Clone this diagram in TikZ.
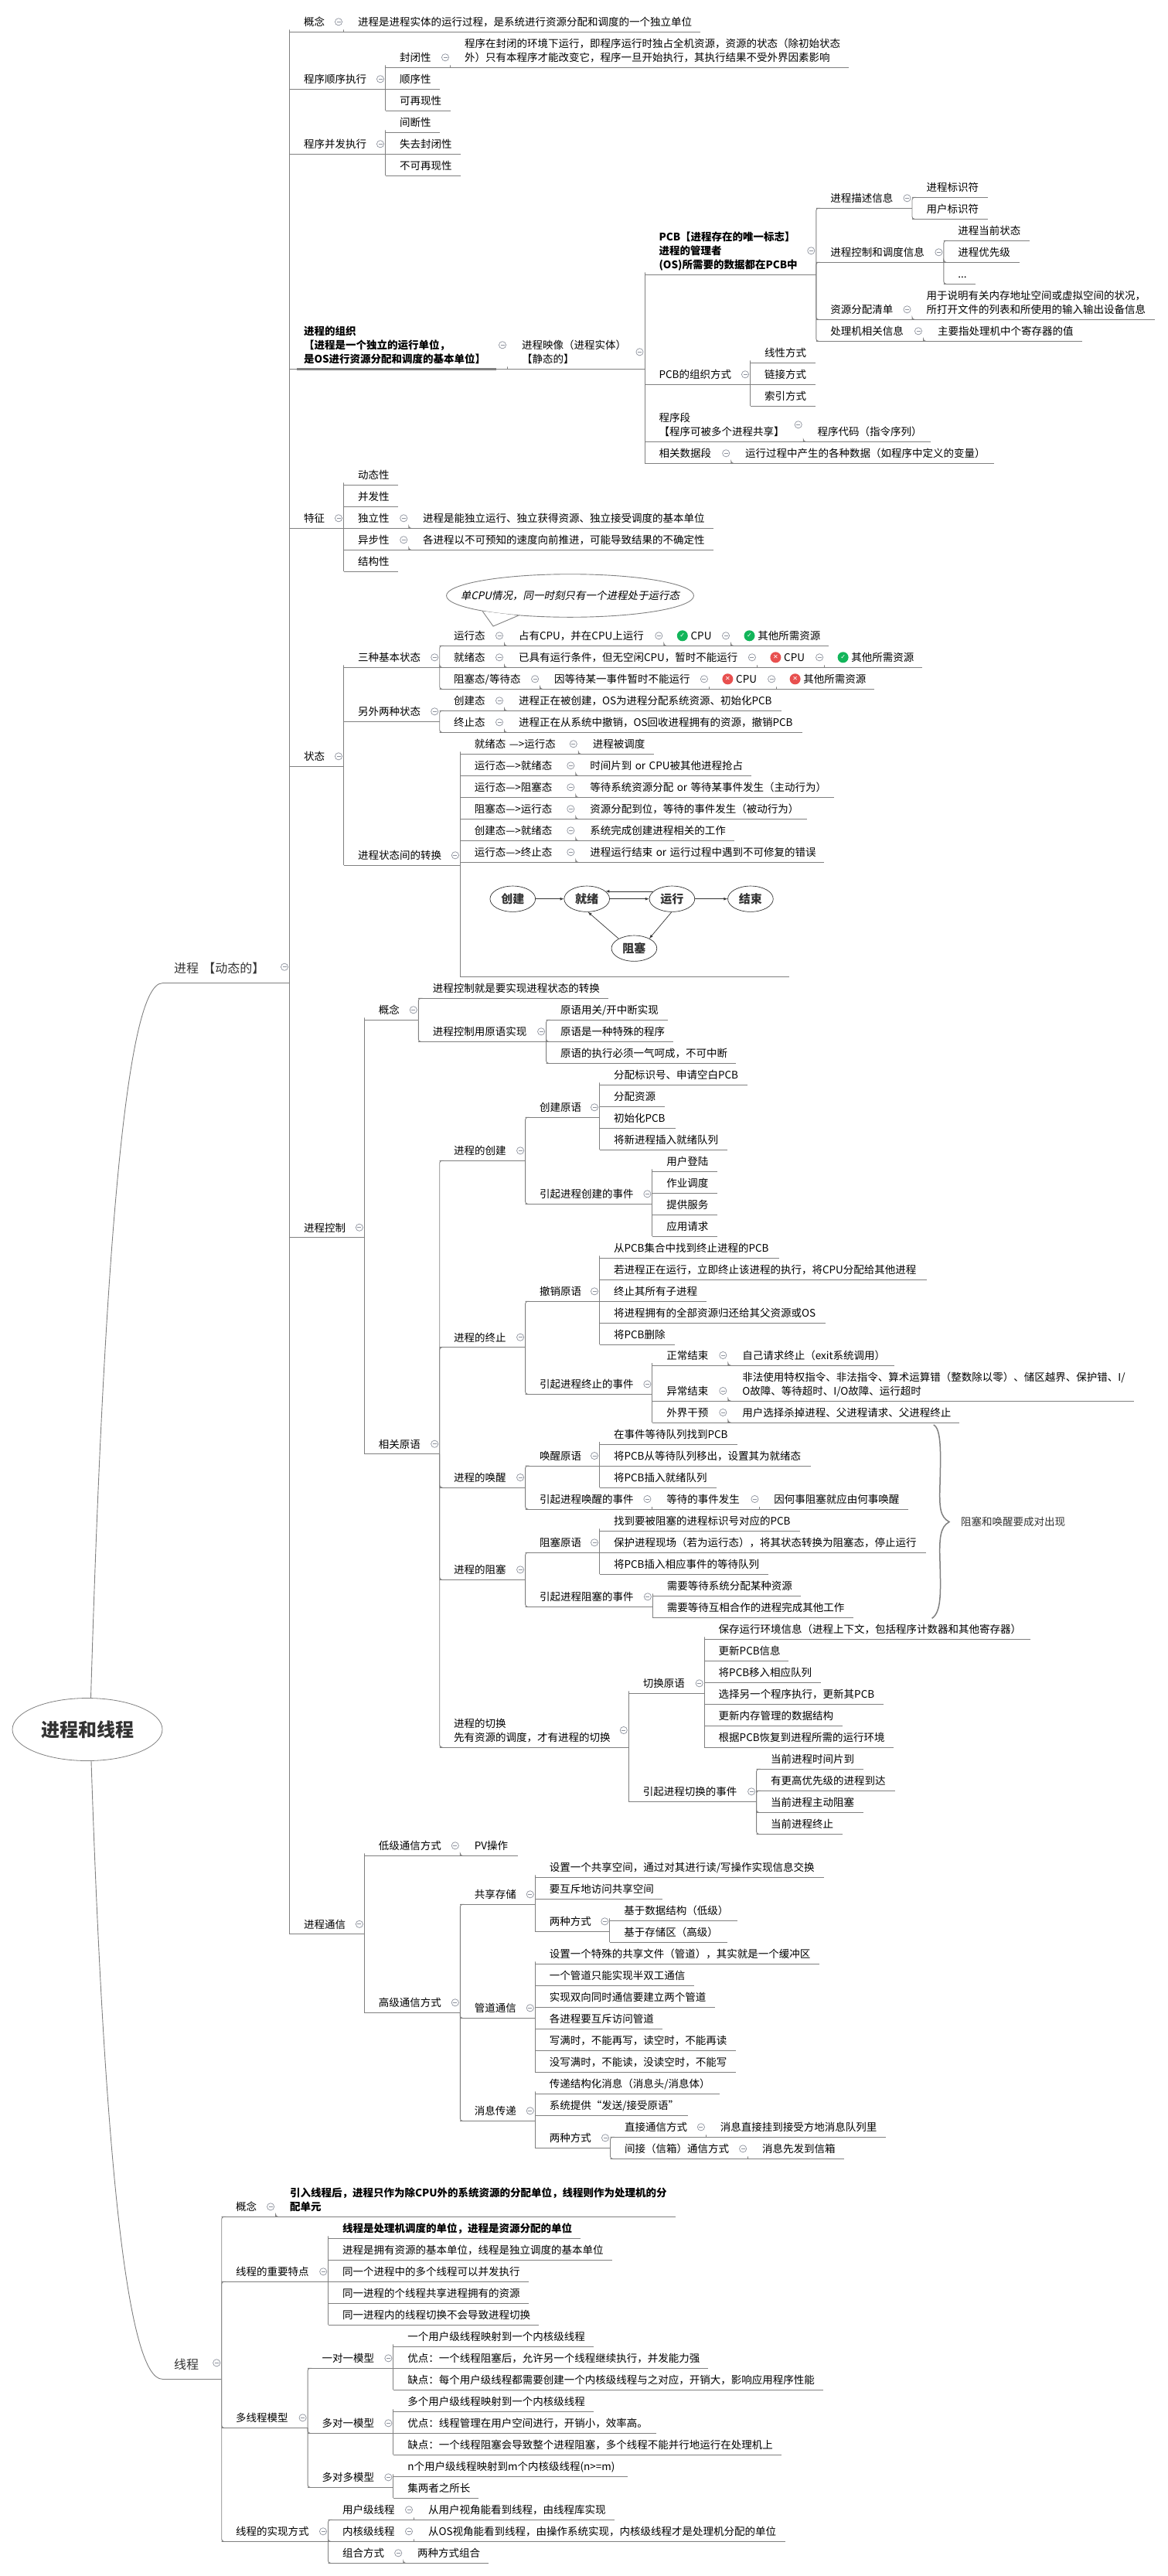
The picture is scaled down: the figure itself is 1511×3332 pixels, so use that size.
\documentclass[tikz,border=0pt]{standalone}
\usepackage{fontspec}
\setmainfont{Noto Sans CJK SC}
\newfontfamily\slantfont[FakeSlant=0.2]{Noto Sans CJK SC}
\newfontfamily\markfont{DejaVu Sans}
\usepackage{tikz}
\usetikzlibrary{shapes,shapes.geometric}
\definecolor{linegray}{HTML}{808080}
\definecolor{inkgray}{HTML}{333333}
\definecolor{btngray}{HTML}{8C919C}
\definecolor{okgreen}{HTML}{12B55A}
\definecolor{nored}{HTML}{E8504F}
\tikzset{
  branch/.style={draw=linegray,line width=0.9pt},
  topic/.style={anchor=south west,inner xsep=0pt,inner ysep=0pt,outer sep=0pt,align=left,text=black,
    font=\fontsize{13.5}{18}\selectfont,execute at begin node={\leftskip=18.5pt\rule{0pt}{18.5pt}},
    execute at end node={\rule[-7.5pt]{0pt}{7.5pt}}},
  mainbranch/.style={topic,text=inkgray,font=\fontsize{16}{20}\selectfont,
    execute at begin node={\leftskip=15pt\rule{0pt}{29pt}},execute at end node={\rule[-13pt]{0pt}{13pt}}},
  collapse/.style={circle,draw=btngray,fill=white,line width=0.7pt,minimum size=9.2pt,inner sep=0pt,outer sep=0pt,text=btngray},
  okdot/.style={circle,fill=okgreen,text=white,minimum size=14pt,inner sep=0pt,font=\markfont\fontsize{8}{8}\selectfont\bfseries},
  nodot/.style={okdot,fill=nored},
  statenode/.style={ellipse,draw=inkgray,line width=0.7pt,minimum width=58.7pt,minimum height=33.3pt,inner sep=0pt,
    text=inkgray,font=\fontsize{15}{15}\selectfont\bfseries},
  rootnode/.style={ellipse,draw=linegray,line width=0.8pt,minimum width=194pt,minimum height=81pt,inner sep=0pt,
    text=inkgray,font=\fontsize{24}{24}\selectfont\bfseries},
  bubble/.style={ellipse,draw=linegray,line width=0.9pt,minimum width=320pt,minimum height=55.6pt,inner xsep=-35pt,inner ysep=0pt,
    font=\slantfont\fontsize{13.5}{18}\selectfont},
}
\begin{document}
\begin{tikzpicture}[x=1pt,y=-1pt]
\useasboundingbox (0,0) rectangle (1511,3332);

\node[rootnode] (root) at (113,2237) {进程和线程};
\node[mainbranch,text width=164.5pt] (proc) at (210,1271.7) {进程 【动态的】};
\node[mainbranch,text width=76.7pt] (thread) at (210,3077.3) {线程};
\draw[branch] (proc.south west) -- (proc.south east);
\draw[branch] (thread.south west) -- (thread.south east);
\draw[branch] ([xshift=4.5pt]root.north) .. controls (135,1600) and (165,1271.7) .. (proc.south west);
\draw[branch] ([xshift=5pt]root.south) .. controls (135,2793) and (165,3077.3) .. (thread.south west);
\node[collapse] (proc-btn) at ([xshift=-6.5pt]proc.east) {\rule{5pt}{0.7pt}};
\node[collapse] (thread-btn) at ([xshift=-6.5pt]thread.east) {\rule{5pt}{0.7pt}};

\foreach \nd/\up/\xl/\yline/\xr/\flag/\txt in {
  concept/proc/374.5/41.3/444.5/1/概念,
  conceptdef/concept/444.5/41.3/906/0/进程是进程实体的运行过程，是系统进行资源分配和调度的一个独立单位,
  seqrun/proc/374.5/115.3/498.5/1/程序顺序执行,
  closed/seqrun/498.5/87.3/582.5/1/封闭性,
  closeddef/closed/582.5/87.3/1098/0/{程序在封闭的环境下运行，即程序运行时独占全机资源，资源的状态（除初始状态\\外）只有本程序才能改变它，程序一旦开始执行，其执行结果不受外界因素影响},
  inorder/seqrun/498.5/115.3/569/0/顺序性,
  repeatable/seqrun/498.5/143.3/582.5/0/可再现性,
  conrun/proc/374.5/199.3/498.5/1/程序并发执行,
  interm/conrun/498.5/171.3/569/0/间断性,
  lostclosed/conrun/498.5/199.3/596/0/失去封闭性,
  norepeat/conrun/498.5/227.3/596/0/不可再现性,
  organize/proc/374.5/477.3/656.5/1/{\bfseries 进程的组织\\【进程是一个独立的运行单位，\\是OS进行资源分配和调度的基本单位】},
  image/organize/656.5/477.3/834/1/{进程映像（进程实体）\\【静态的】},
  pcb/image/834/355.3/1055.8/1/{\bfseries PCB【进程存在的唯一标志】\\进程的管理者\\(OS)所需要的数据都在PCB中},
  descinfo/pcb/1055.8/269.3/1180/1/进程描述信息,
  pid/descinfo/1180/255.3/1278/0/进程标识符,
  uid/descinfo/1180/283.3/1278/0/用户标识符,
  ctrlinfo/pcb/1055.8/339.3/1220.9/1/进程控制和调度信息,
  curstate/ctrlinfo/1220.9/311.3/1331.5/0/进程当前状态,
  priority/ctrlinfo/1220.9/339.3/1318.8/0/进程优先级,
  ctrlmore/ctrlinfo/1220.9/367.3/1261.7/0/.{}.{}.,
  reslist/pcb/1055.8/413.3/1180/1/资源分配清单,
  reslistdef/reslist/1180/413.3/1494.3/0/{用于说明有关内存地址空间或虚拟空间的状况，\\所打开文件的列表和所使用的输入输出设备信息},
  cpuinfo/pcb/1055.8/441.3/1194.5/1/处理机相关信息,
  cpuinfodef/cpuinfo/1194.5/441.3/1399.5/0/主要指处理机中个寄存器的值,
  pcborg/image/834/497.3/970.5/1/PCB的组织方式,
  linear/pcborg/970.5/469.3/1054.9/0/线性方式,
  linked/pcborg/970.5/497.3/1054.9/0/链接方式,
  indexed/pcborg/970.5/525.3/1054.9/0/索引方式,
  codeseg/image/834/571.3/1039.2/1/{程序段\\【程序可被多个进程共享】},
  codesegdef/codeseg/1039.2/571.3/1203.6/0/程序代码（指令序列）,
  dataseg/image/834/599.3/945.7/1/相关数据段,
  datasegdef/dataseg/945.7/599.3/1286.2/0/运行过程中产生的各种数据（如程序中定义的变量）,
  feature/proc/374.5/683.3/444.5/1/特征,
  dynamic/feature/444.5/627.3/514.8/0/动态性,
  concur/feature/444.5/655.3/514.8/0/并发性,
  indep/feature/444.5/683.3/528.7/1/独立性,
  indepdef/indep/528.7/683.3/923/0/进程是能独立运行、独立获得资源、独立接受调度的基本单位,
  asyncp/feature/444.5/711.3/528.7/1/异步性,
  asyncpdef/asyncp/528.7/711.3/923/0/各进程以不可预知的速度向前推进，可能导致结果的不确定性,
  structp/feature/444.5/739.3/514.8/0/结构性,
  state/proc/374.5/991.3/444.5/1/状态,
  three/state/444.5/863.3/568.7/1/三种基本状态,
  run/three/568.7/835.3/652.5/1/运行态,
  runinfo/run/652.5/835.3/858.8/1/占有CPU，并在CPU上运行,
  runcpu/runinfo/858.8/835.3/945.5/1/\hspace*{16.3pt}CPU,
  runother/runcpu/945.5/835.3/1072/0/\hspace*{16.3pt}其他所需资源,
  ready/three/568.7/863.3/652.5/1/就绪态,
  readyinfo/ready/652.5/863.3/979.4/1/已具有运行条件，但无空闲CPU，暂时不能运行,
  readycpu/readyinfo/979.4/863.3/1066.6/1/\hspace*{16.3pt}CPU,
  readyother/readycpu/1066.6/863.3/1193.3/0/\hspace*{16.3pt}其他所需资源,
  blocked/three/568.7/891.3/698.6/1/{阻塞态/等待态},
  blockinfo/blocked/698.6/891.3/917.4/1/因等待某一事件暂时不能运行,
  blockcpu/blockinfo/917.4/891.3/1004.6/1/\hspace*{16.3pt}CPU,
  blockother/blockcpu/1004.6/891.3/1131.3/0/\hspace*{16.3pt}其他所需资源,
  other/state/444.5/933.3/568.7/1/另外两种状态,
  created/other/568.7/919.3/652.5/1/创建态,
  createdinfo/created/652.5/919.3/1011.3/0/进程正在被创建，OS为进程分配系统资源、初始化PCB,
  ended/other/568.7/947.3/652.5/1/终止态,
  endedinfo/ended/652.5/947.3/1038.3/0/进程正在从系统中撤销，OS回收进程拥有的资源，撤销PCB,
  trans/state/444.5/1119.3/595.4/1/进程状态间的转换,
  transa/trans/595.4/975.3/748.3/1/就绪态 —>运行态,
  transadef/transa/748.3/975.3/845.9/0/进程被调度,
  transb/trans/595.4/1003.3/744.8/1/运行态—>就绪态,
  transbdef/transb/744.8/1003.3/972/0/时间片到 or CPU被其他进程抢占,
  transc/trans/595.4/1031.3/744.8/1/运行态—>阻塞态,
  transcdef/transc/744.8/1031.3/1079/0/等待系统资源分配 or 等待某事件发生（主动行为）,
  transd/trans/595.4/1059.3/744.8/1/阻塞态—>运行态,
  transddef/transd/744.8/1059.3/1043.9/0/资源分配到位，等待的事件发生（被动行为）,
  transe/trans/595.4/1087.3/744.8/1/创建态—>就绪态,
  transedef/transe/744.8/1087.3/950/0/系统完成创建进程相关的工作,
  transf/trans/595.4/1115.3/744.8/1/运行态—>终止态,
  transfdef/transf/744.8/1115.3/1065.8/0/进程运行结束 or 运行过程中遇到不可修复的错误,
  statepic/trans/595.4/1263.3/1021/0/{},
  control/proc/374.5/1600.7/471.4/1/进程控制,
  ctrlconcept/control/471.4/1319.3/541.3/1/概念,
  ctrldef/ctrlconcept/541.3/1291.3/787.2/0/进程控制就是要实现进程状态的转换,
  ctrlprim/ctrlconcept/541.3/1347.3/706.6/1/进程控制用原语实现,
  primswitch/ctrlprim/706.6/1319.3/863.8/0/{原语用关/开中断实现},
  primspecial/ctrlprim/706.6/1347.3/870.9/0/原语是一种特殊的程序,
  primatomic/ctrlprim/706.6/1375.3/952/0/原语的执行必须一气呵成，不可中断,
  prims/control/471.4/1880.7/568.7/1/相关原语,
  create/prims/568.7/1501.3/679.6/1/进程的创建,
  createprim/create/679.6/1445.3/775.5/1/创建原语,
  crta/createprim/775.5/1403.3/966.8/0/分配标识号、申请空白PCB,
  crtb/createprim/775.5/1431.3/860.2/0/分配资源,
  crtc/createprim/775.5/1459.3/873.5/0/初始化PCB,
  crtd/createprim/775.5/1487.3/940.8/0/将新进程插入就绪队列,
  createevt/create/679.6/1557.3/843.9/1/引起进程创建的事件,
  cea/createevt/843.9/1515.3/928/0/用户登陆,
  ceb/createevt/843.9/1543.3/928/0/作业调度,
  cec/createevt/843.9/1571.3/928/0/提供服务,
  ced/createevt/843.9/1599.3/928/0/应用请求,
  term/prims/568.7/1742.7/679.6/1/进程的终止,
  termprim/term/679.6/1683.3/775.5/1/撤销原语,
  tma/termprim/775.5/1627.3/1007.7/0/从PCB集合中找到终止进程的PCB,
  tmb/termprim/775.5/1655.3/1198.5/0/若进程正在运行，立即终止该进程的执行，将CPU分配给其他进程,
  tmc/termprim/775.5/1683.3/914.4/0/终止其所有子进程,
  tmd/termprim/775.5/1711.3/1068.4/0/将进程拥有的全部资源归还给其父资源或OS,
  tme/termprim/775.5/1739.3/873.3/0/将PCB删除,
  termevt/term/679.6/1803.3/843.9/1/引起进程终止的事件,
  normalend/termevt/843.9/1766/941.8/1/正常结束,
  normalenddef/normalend/941.8/1766/1156.7/0/自己请求终止（exit系统调用）,
  abnormal/termevt/843.9/1812/941.8/1/异常结束,
  abnormaldef/abnormal/941.8/1812/1467/0/{非法使用特权指令、非法指令、算术运算错（整数除以零）、储区越界、保护错、I/\\O故障、等待超时、I/O故障、运行超时},
  extern/termevt/843.9/1840/941.8/1/外界干预,
  externdef/extern/941.8/1840/1241.4/0/用户选择杀掉进程、父进程请求、父进程终止,
  wake/prims/568.7/1924/679.6/1/进程的唤醒,
  wakeprim/wake/679.6/1896/775.5/1/唤醒原语,
  wka/wakeprim/775.5/1868/954.3/0/在事件等待队列找到PCB,
  wkb/wakeprim/775.5/1896/1048.8/0/将PCB从等待队列移出，设置其为就绪态,
  wkc/wakeprim/775.5/1924/926.7/0/将PCB插入就绪队列,
  wakeevt/wake/679.6/1952/843.9/1/引起进程唤醒的事件,
  wakeocc/wakeevt/843.9/1952/982.9/1/等待的事件发生,
  wakeoccdef/wakeocc/982.9/1952/1174.5/0/因何事阻塞就应由何事唤醒,
  block/prims/568.7/2043.3/679.6/1/进程的阻塞,
  blockprim/block/679.6/2008.3/775.5/1/阻塞原语,
  bka/blockprim/775.5/1980.3/1035.2/0/找到要被阻塞的进程标识号对应的PCB,
  bkb/blockprim/775.5/2008.3/1198/0/保护进程现场（若为运行态），将其状态转换为阻塞态，停止运行,
  bkc/blockprim/775.5/2036.3/993.9/0/将PCB插入相应事件的等待队列,
  blockevt/block/679.6/2078.3/844.4/1/引起进程阻塞的事件,
  bea/blockevt/844.4/2064.3/1036.2/0/需要等待系统分配某种资源,
  beb/blockevt/844.4/2092.3/1104/0/需要等待互相合作的进程完成其他工作,
  switch/prims/568.7/2260/813.3/1/{进程的切换\\先有资源的调度，才有进程的切换},
  swprim/switch/813.3/2190.3/911.2/1/切换原语,
  swa/swprim/911.2/2120.3/1333.2/0/保存运行环境信息（进程上下文，包括程序计数器和其他寄存器）,
  swb/swprim/911.2/2148.3/1020.4/0/更新PCB信息,
  swc/swprim/911.2/2176.3/1061.7/0/将PCB移入相应队列,
  swd/swprim/911.2/2204.3/1142.9/0/选择另一个程序执行，更新其PCB,
  swe/swprim/911.2/2232.3/1089.8/0/更新内存管理的数据结构,
  swf/swprim/911.2/2260.3/1156.1/0/根据PCB恢复到进程所需的运行环境,
  swevt/switch/813.3/2330.3/978.6/1/引起进程切换的事件,
  sea/swevt/978.6/2288.3/1116.8/0/当前进程时间片到,
  seb/swevt/978.6/2316.3/1158.2/0/有更高优先级的进程到达,
  sec/swevt/978.6/2344.3/1116.8/0/当前进程主动阻塞,
  sed/swevt/978.6/2372.3/1089.8/0/当前进程终止,
  comm/proc/374.5/2501.8/471.4/1/进程通信,
  lowcomm/comm/471.4/2400.3/595.3/1/低级通信方式,
  pvop/lowcomm/595.3/2400.3/669.9/0/PV操作,
  highcomm/comm/471.4/2603.3/595.3/1/高级通信方式,
  shm/highcomm/595.3/2463.3/692.3/1/共享存储,
  shma/shm/692.3/2428.3/1065.8/0/{设置一个共享空间，通过对其进行读/写操作实现信息交换},
  shmb/shm/692.3/2456.3/857.1/0/要互斥地访问共享空间,
  shmc/shm/692.3/2498.3/788.8/1/两种方式,
  shmlow/shmc/788.8/2484.3/954.1/0/基于数据结构（低级）,
  shmhigh/shmc/788.8/2512.3/940.8/0/基于存储区（高级）,
  pipecomm/highcomm/595.3/2610.3/692.3/1/管道通信,
  pipea/pipecomm/692.3/2540.3/1060.2/0/设置一个特殊的共享文件（管道），其实就是一个缓冲区,
  pipeb/pipecomm/692.3/2568.3/898/0/一个管道只能实现半双工通信,
  pipec/pipecomm/692.3/2596.3/925/0/实现双向同时通信要建立两个管道,
  piped/pipecomm/692.3/2624.3/857.1/0/各进程要互斥访问管道,
  pipee/pipecomm/692.3/2652.3/952/0/写满时，不能再写，读空时，不能再读,
  pipef/pipecomm/692.3/2680.3/952/0/没写满时，不能读，没读空时，不能写,
  msg/highcomm/595.3/2743.3/692.3/1/消息传递,
  msga/msg/692.3/2708.3/931.1/0/{传递结构化消息（消息头/消息体）},
  msgb/msg/692.3/2736.3/890.3/0/{系统提供“发送/接受原语”},
  msgc/msg/692.3/2778.3/789.5/1/两种方式,
  msgdirect/msgc/789.5/2764.3/913.4/1/直接通信方式,
  msgdirectdef/msgdirect/913.4/2764.3/1146/0/消息直接挂到接受方地消息队列里,
  msgbox/msgc/789.5/2792.3/967.6/1/间接（信箱）通信方式,
  msgboxdef/msgbox/967.6/2792.3/1091.8/0/消息先发到信箱,
  thconcept/thread/286.7/2867.3/356.6/1/概念,
  thconceptdef/thconcept/356.6/2867.3/873.7/0/{\bfseries 引入线程后，进程只作为除CPU外的系统资源的分配单位，线程则作为处理机的分\\配单元},
  thfeat/thread/286.7/2951.3/424.7/1/线程的重要特点,
  tfa/thfeat/424.7/2895.3/751.3/0/{\bfseries 线程是处理机调度的单位，进程是资源分配的单位},
  tfb/thfeat/424.7/2923.3/792/0/进程是拥有资源的基本单位，线程是独立调度的基本单位,
  tfc/thfeat/424.7/2951.3/684.3/0/同一个进程中的多个线程可以并发执行,
  tfd/thfeat/424.7/2979.3/684.3/0/同一进程的个线程共享进程拥有的资源,
  tfe/thfeat/424.7/3007.3/696.6/0/同一进程内的线程切换不会导致进程切换,
  thmodel/thread/286.7/3140.3/398.1/1/多线程模型,
  oneone/thmodel/398.1/3063.3/508.9/1/一对一模型,
  ooa/oneone/508.9/3035.3/767.8/0/一个用户级线程映射到一个内核级线程,
  oob/oneone/508.9/3063.3/915.9/0/优点：一个线程阻塞后，允许另一个线程继续执行，并发能力强,
  ooc/oneone/508.9/3091.3/1065.2/0/缺点：每个用户级线程都需要创建一个内核级线程与之对应，开销大，影响应用程序性能,
  manyone/thmodel/398.1/3147.3/508.9/1/多对一模型,
  moa/manyone/508.9/3119.3/767.8/0/多个用户级线程映射到一个内核级线程,
  mob/manyone/508.9/3147.3/849.3/0/优点：线程管理在用户空间进行，开销小，效率高。,
  moc/manyone/508.9/3175.3/1011.2/0/缺点：一个线程阻塞会导致整个进程阻塞，多个线程不能并行地运行在处理机上,
  manymany/thmodel/398.1/3217.3/508.9/1/多对多模型,
  mma/manymany/508.9/3203.3/812/0/n个用户级线程映射到m个内核级线程(n>=m),
  mmb/manymany/508.9/3231.3/619.1/0/集两者之所长,
  thimpl/thread/286.7/3287.3/424.5/1/线程的实现方式,
  userth/thimpl/424.5/3259.3/535.5/1/用户级线程,
  userthdef/userth/535.5/3259.3/795.3/0/从用户视角能看到线程，由线程库实现,
  kernelth/thimpl/424.5/3287.3/535.5/1/内核级线程,
  kernelthdef/kernelth/535.5/3287.3/1016.4/0/从OS视角能看到线程，由操作系统实现，内核级线程才是处理机分配的单位,
  mixedth/thimpl/424.5/3315.3/521.7/1/组合方式,
  mixedthdef/mixedth/521.7/3315.3/632.3/0/两种方式组合} {
    \pgfmathsetmacro{\tw}{\xr-\xl}
    \node[topic,text width=\tw pt] (\nd) at (\xl,\yline) {\txt};
    \draw[branch] (\nd.south west) -- (\nd.south east);
    \draw[branch,rounded corners=3pt] (\up.south east) |- (\nd.south west);
    \ifnum\flag=1
      \node[collapse] (\nd-btn) at ([xshift=-6.5pt]\nd.east) {\rule{5pt}{0.7pt}};
    \fi
}

\draw[linegray,line width=3pt] ([xshift=9.5pt]organize.south west) -- ([xshift=-14.5pt]organize.south east);

\foreach \nd in {runcpu,runother,readyother} {
    \node[okdot] (\nd-dot) at ([xshift=24pt,yshift=13pt]\nd.south west) {✓};
}
\foreach \nd in {readycpu,blockcpu,blockother} {
    \node[nodot] (\nd-dot) at ([xshift=24pt,yshift=13pt]\nd.south west) {✕};
}

\node[bubble] (onecpu) at (737.5,770.5) {单CPU情况，同一时刻只有一个进程处于运行态};
\coordinate (tailtip) at (638,810);
\fill[white] (onecpu.190) -- (tailtip) -- (onecpu.201) -- cycle;
\draw[branch] (onecpu.190) -- (tailtip) -- (onecpu.201);

\foreach \st/\x/\y/\lbl in {stnew/663.3/1162.7/创建, stready/759.2/1162.7/就绪, strun/869.4/1162.7/运行, stend/970.9/1162.7/结束, stblock/820.4/1226.7/阻塞} {
    \node[statenode] (\st) at (\x,\y) {\lbl};
}
\foreach \a/\b in {stnew/stready, stready/strun, strun/stend, strun.158/stready.22, strun.-92/stblock.33, stblock.148/stready.-85} {
    \draw[-latex,inkgray,line width=0.7pt] (\a) -- (\b);
}

\coordinate (bracetop) at (1207.7,1843);
\coordinate (bracetip) at (1228,1968.5);
\coordinate (bracebot) at (1205.6,2093.3);
\draw[linegray,line width=1.5pt] (bracetop) .. controls (1218,1848) and (1217,1880) .. (1216,1920) .. controls (1215,1950) and (1216,1962) .. (bracetip) .. controls (1216,1975) and (1215,1990) .. (1216,2020) .. controls (1217,2060) and (1218,2085) .. (bracebot);
\node[anchor=west,inner sep=0pt,text=inkgray,font=\fontsize{13.5}{18}\selectfont] (pairnote) at (1243,1968.5) {阻塞和唤醒要成对出现};
\end{tikzpicture}
\end{document}
